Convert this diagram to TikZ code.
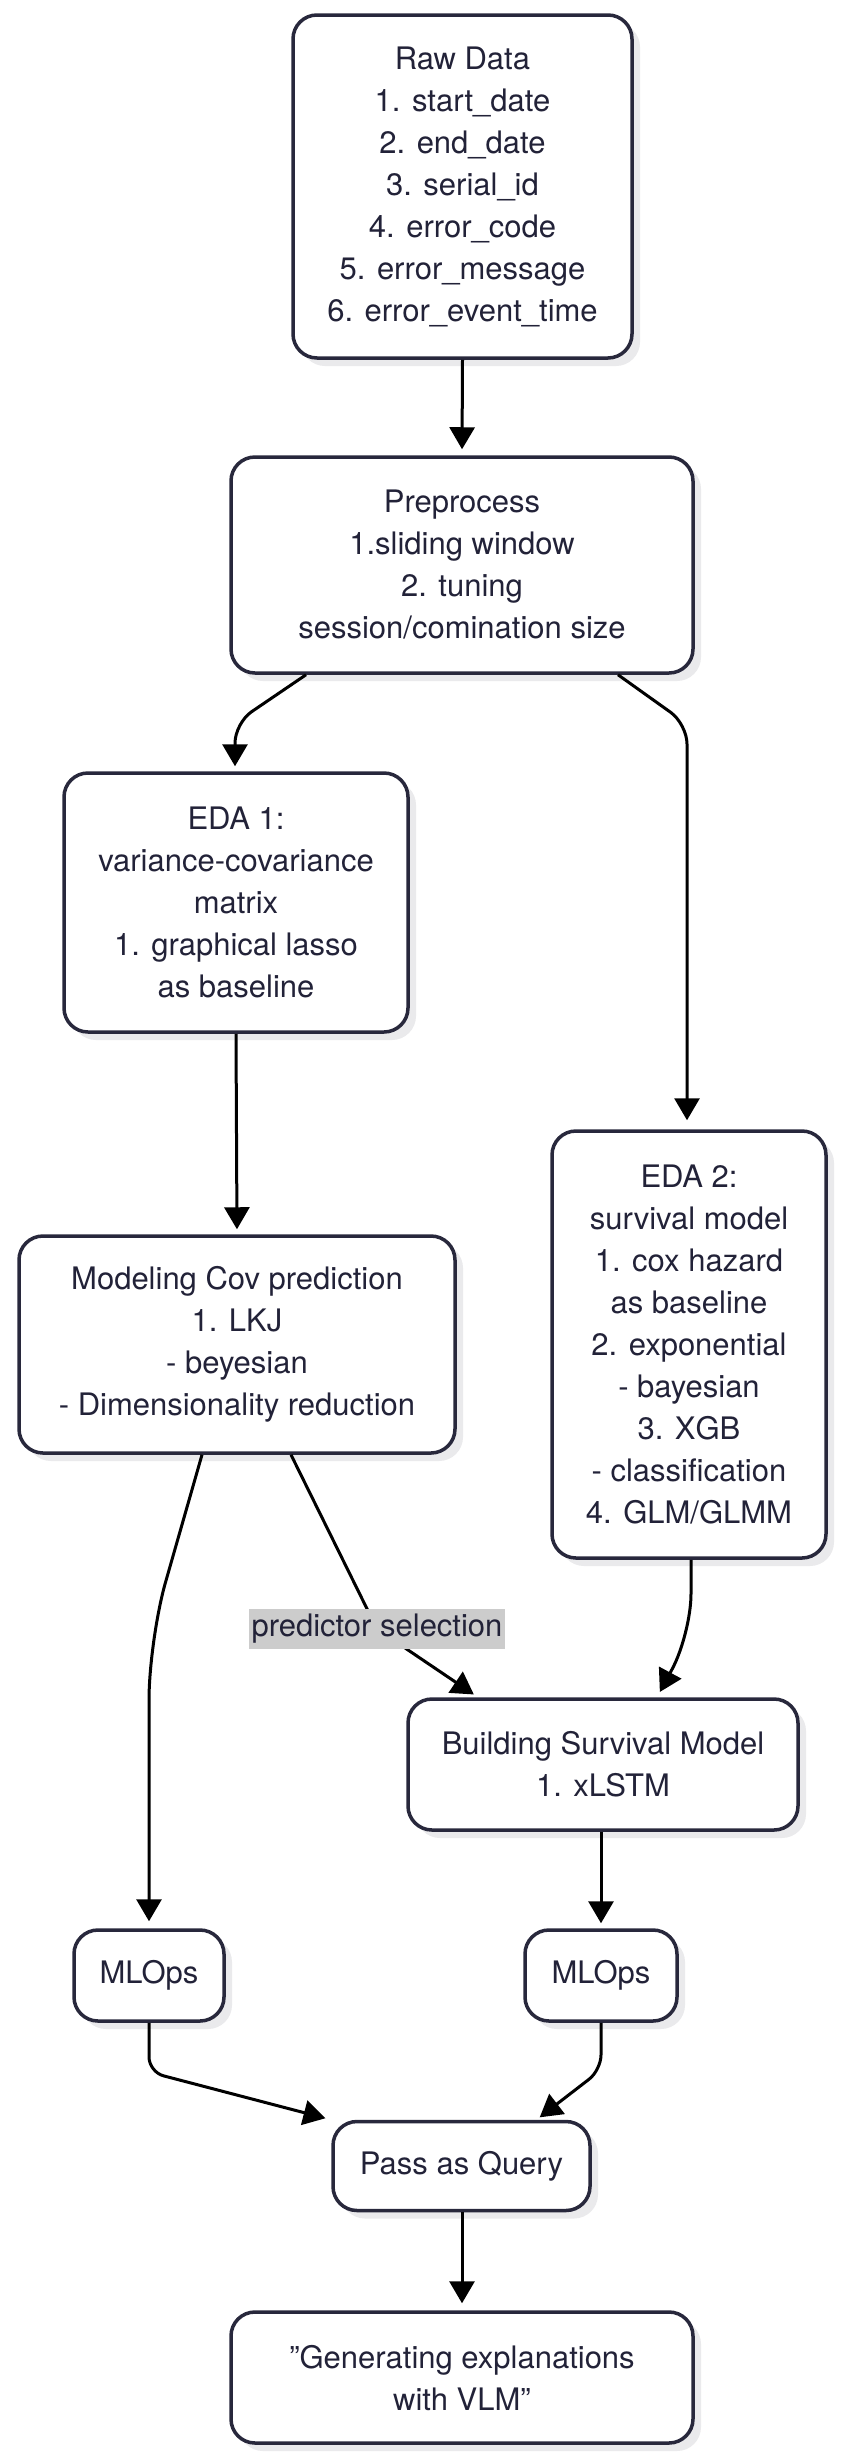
\documentclass[tikz,border=0pt]{standalone}
\usepackage{fontspec}
\setmainfont{TeX Gyre Heros}
\usetikzlibrary{arrows.meta,shadows}
\definecolor{inkc}{RGB}{34,34,56}
\definecolor{edgec}{RGB}{40,40,60}
\definecolor{shadowc}{RGB}{234,234,236}
\definecolor{labelc}{RGB}{204,204,204}
\tikzset{
  box/.style={draw=edgec, line width=3.5pt, rounded corners=24pt, fill=white,
    align=center, text=inkc, inner sep=0pt,
    font=\fontsize{31}{42}\selectfont,
    drop shadow={shadow xshift=8pt, shadow yshift=-8pt, fill=shadowc, opacity=1}},
  flow/.style={draw=black, line width=3pt, -{Triangle[width=25pt,length=22pt]}},
  edgelabel/.style={fill=labelc, text=inkc, inner xsep=3pt, inner ysep=5pt,
    font=\fontsize{31}{36}\selectfont}
}
\begin{document}
\begin{tikzpicture}[x=1pt,y=-1pt]
\useasboundingbox[fill=white] (0,0) rectangle (842,2460);

% process boxes
\node[box, minimum width=339pt, minimum height=343pt] (raw) at (462.5,186.5)
  {Raw Data\\1. start\_date\\2. end\_date\\3. serial\_id\\4. error\_code\\5. error\_message\\6. error\_event\_time};
\node[box, minimum width=462pt, minimum height=216pt] (pre) at (462,565)
  {Preprocess\\1.sliding window\\2. tuning\\session/comination size};
\node[box, minimum width=344pt, minimum height=259pt] (eda1) at (236,902.5)
  {EDA 1:\\variance-covariance\\matrix\\1. graphical lasso\\as baseline};
\node[box, minimum width=274pt, minimum height=427pt] (eda2) at (689,1344.5)
  {EDA 2:\\survival model\\1. cox hazard\\as baseline\\2. exponential\\- bayesian\\3. XGB\\- classification\\4. GLM/GLMM};
\node[box, minimum width=436pt, minimum height=217pt] (cov) at (237,1344.5)
  {Modeling Cov prediction\\1. LKJ\\- beyesian\\- Dimensionality reduction};
\node[box, minimum width=390pt, minimum height=131pt] (build) at (603,1764.5)
  {Building Survival Model\\1. xLSTM};
\node[box, minimum width=150pt, minimum height=91pt] (mlL) at (149,1975.5) {MLOps};
\node[box, minimum width=152pt, minimum height=91pt] (mlR) at (601,1975.5) {MLOps};
\node[box, minimum width=257pt, minimum height=89pt] (pass) at (461.5,2166) {Pass as Query};
\node[box, minimum width=462pt, minimum height=131pt] (fin) at (462,2377.5)
  {”Generating explanations\\with VLM”};

% connectors
\draw[flow, shorten >=6pt] (raw.south) -- (pre.north);
\draw[flow, rounded corners=20pt, shorten >=5pt]
  ([xshift=-156pt]pre.south) -- (235,723) -- ([xshift=-1pt]eda1.north);
\draw[flow, rounded corners=20pt, shorten >=9pt]
  ([xshift=156pt]pre.south) -- (687,724) -- ([xshift=-2pt]eda2.north);
\draw[flow, shorten >=5pt] (eda1.south) -- (cov.north);
\draw[flow, rounded corners=60pt, shorten >=7pt]
  ([xshift=-35pt]cov.south) -- (149,1640) -- (mlL.north);
\draw[flow, rounded corners=10pt, shorten >=5pt]
  ([xshift=54pt]cov.south) -- (377,1629) -- ([xshift=-125pt]build.north);
\node[edgelabel] (sel) at (377,1629) {predictor selection};
\draw[flow, rounded corners=40pt, shorten >=6pt]
  ([xshift=2pt]eda2.south) -- (691,1634) -- ([xshift=54pt]build.north);
\draw[flow, shorten >=5pt] ([xshift=-2pt]build.south) -- (mlR.north);
\draw[flow, rounded corners=15pt, shorten >=6pt]
  (mlL.south) -- (149,2072) -- (pass.north west);
\draw[flow, rounded corners=15pt, shorten >=4pt]
  (mlR.south) -- (601,2070) -- ([xshift=75pt]pass.north);
\draw[flow, shorten >=7pt] ([xshift=0.5pt]pass.south) -- (fin.north);
\end{tikzpicture}
\end{document}
